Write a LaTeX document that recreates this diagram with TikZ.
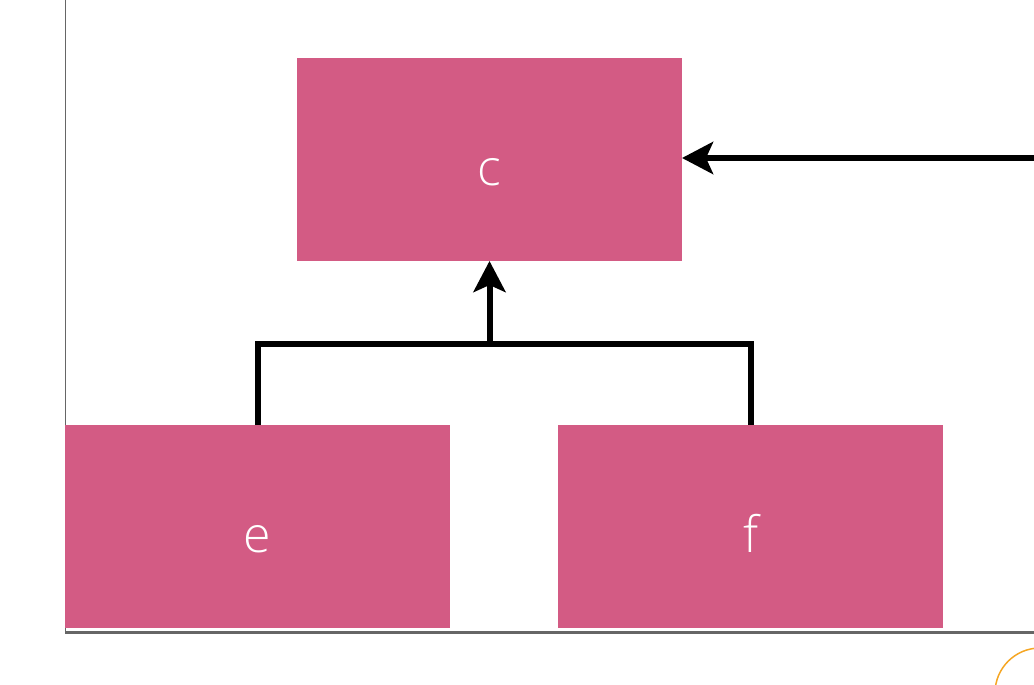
\documentclass[tikz,border=0pt]{standalone}
\usepackage{fontspec}
\setmainfont{Open Sans Light}
\usetikzlibrary{arrows.meta}
\definecolor{boxpink}{HTML}{D35B84}
\definecolor{axisgray}{HTML}{666666}
\definecolor{arcorange}{HTML}{F5A623}
\tikzset{
  box/.style={fill=boxpink, draw=none, minimum width=385pt, minimum height=203pt, inner sep=0pt, outer sep=0pt},
  lbl/.style={text=white, font=\fontsize{50}{50}\selectfont, anchor=base, inner sep=0pt},
  conn/.style={line width=6pt, draw=black},
  tip/.style={-{Stealth[length=31pt,width=32pt,inset=7pt]}},
}
\begin{document}
\begin{tikzpicture}[x=1pt,y=-1pt]
\useasboundingbox (0,0) rectangle (1034,685);
\clip (0,0) rectangle (1034,685);
% axes
\draw[axisgray, line width=1pt] (65,0) -- (65,632);
\draw[axisgray, line width=3pt] (65,632.5) -- (1034,632.5);
% boxes
\node[box] (c) at (489.5,159.5) {};
\node[box] (e) at (257.5,526.5) {};
\node[box] (f) at (750.5,526.5) {};
\node[lbl] (ct) at (489.5,185) {c};
\node[lbl] (et) at (257.5,552) {e};
\node[lbl] (ft) at (750.5,552) {f};
% connectors
\coordinate (src) at (1040,158);
\coordinate (j) at (c.south |- 0,344);
\draw[conn,tip] (src) -- (c.east |- src);
\draw[conn,line join=miter] (e.north) -- (e.north |- j) -- (f.north |- j) -- (f.north);
\draw[conn,tip] (j) -- (c.south);
% orange arc
\draw[arcorange, line width=1.5pt] (1040,693) circle (45);
\end{tikzpicture}
\end{document}
